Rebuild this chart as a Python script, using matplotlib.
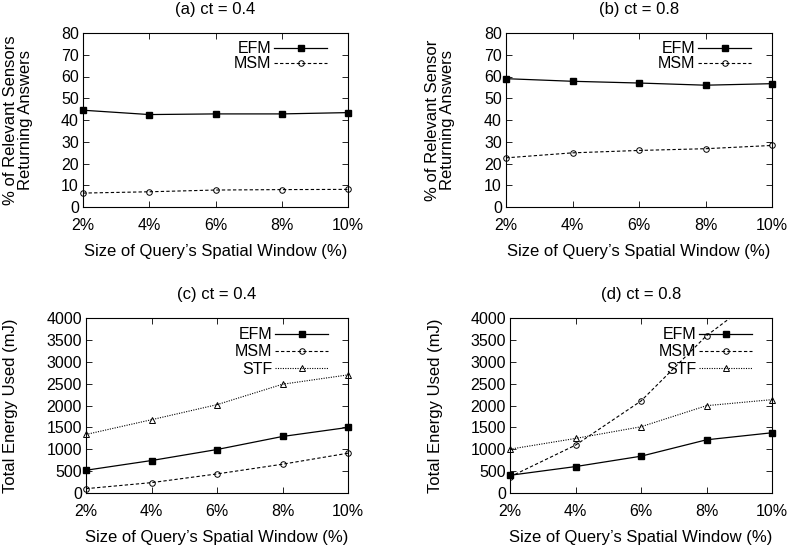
import matplotlib
matplotlib.use("Agg")
import matplotlib.pyplot as plt

plt.rcParams["font.family"] = ["Liberation Sans", "DejaVu Sans"]
plt.rcParams["font.size"] = 11.5

# x axis: size of the query's spatial window
windows = [2, 4, 6, 8, 10]
window_labels = ["2%", "4%", "6%", "8%", "10%"]

# (a) / (b) percentage of relevant sensors returning answers
efm_pct_04 = [44.5, 42.5, 42.8, 42.8, 43.4]
msm_pct_04 = [6.4, 7.0, 7.8, 8.0, 8.1]
efm_pct_08 = [59.0, 57.8, 57.0, 56.0, 56.7]
msm_pct_08 = [22.6, 24.9, 26.0, 26.8, 28.3]

# (c) / (d) total energy used (mJ)
efm_energy_04 = [520, 742, 994, 1292, 1499]
msm_energy_04 = [99, 237, 436, 658, 910]
stf_energy_04 = [1338, 1675, 2019, 2486, 2700]
efm_energy_08 = [405, 604, 841, 1216, 1377]
msm_energy_08 = [370, 1094, 2103, 3595, 4720]
stf_energy_08 = [1002, 1247, 1514, 1996, 2134]

fig = plt.figure(figsize=(7.9, 5.45), dpi=100)
W, H = 790.0, 545.0


def make_ax(left, right, top, bottom):
    return fig.add_axes([left / W, 1 - bottom / H, (right - left) / W, (bottom - top) / H])


styles = {
    "EFM": dict(color="black", lw=0.9, ls="-", marker="s", ms=3.8, mfc="black", mec="black"),
    "MSM": dict(color="black", lw=0.8, ls=(0, (3, 2)), marker="o", ms=4.0, mfc="none", mec="black", mew=0.7),
    "STF": dict(color="black", lw=0.8, ls=(0, (1, 1.2)), marker="^", ms=4.0, mfc="none", mec="black", mew=0.7),
}


def style_axes(ax, title, ylabel, ymax, ystep, ylab_x, lab_spacing, leg_x, leg_y):
    ax.set_xlim(2, 10)
    ax.set_ylim(0, ymax)
    ax.set_xticks(windows)
    ax.set_xticklabels(window_labels)
    ax.set_yticks(range(0, ymax + 1, ystep))
    ax.tick_params(direction="in", length=4, width=0.6, top=True, right=True)
    ax.tick_params(axis="y", pad=3)
    ax.tick_params(axis="x", pad=8)
    for s in ax.spines.values():
        s.set_linewidth(0.8)
    ax.set_title(title, fontsize=12, pad=14)
    ax.set_xlabel("Size of Query\u2019s Spatial Window (%)", fontsize=12, labelpad=8)
    ax.set_ylabel(ylabel, fontsize=12, linespacing=1.0)
    ax.yaxis.set_label_coords(ylab_x, 0.5)
    ax.legend(loc="upper right", bbox_to_anchor=(leg_x, leg_y), frameon=False,
              markerfirst=False, handlelength=3.3, labelspacing=lab_spacing,
              borderaxespad=0.0, handletextpad=0.2, borderpad=0.0)


ax = make_ax(83, 348, 33, 207)
ax.plot(windows, efm_pct_04, label="EFM", clip_on=False, **styles["EFM"])
ax.plot(windows, msm_pct_04, label="MSM", clip_on=False, **styles["MSM"])
style_axes(ax, "(a) ct = 0.4", "% of Relevant Sensors\nReturning Answers", 80, 10, -0.189, 0.0, 0.921, 0.953)

ax = make_ax(506, 772, 33, 207)
ax.plot(windows, efm_pct_08, label="EFM", clip_on=False, **styles["EFM"])
ax.plot(windows, msm_pct_08, label="MSM", clip_on=False, **styles["MSM"])
style_axes(ax, "(b) ct = 0.8", "% of Relevant Sensor\nReturning Answers", 80, 10, -0.192, 0.0, 0.921, 0.953)

ax = make_ax(86, 348, 318, 493)
ax.plot(windows, efm_energy_04, label="EFM", clip_on=False, **styles["EFM"])
ax.plot(windows, msm_energy_04, label="MSM", clip_on=False, **styles["MSM"])
ax.plot(windows, stf_energy_04, label="STF", clip_on=False, **styles["STF"])
style_axes(ax, "(c) ct = 0.4", "Total Energy Used (mJ)", 4000, 500, -0.26, 0.15, 0.924, 0.948)

ax = make_ax(510, 772, 318, 493)
ax.plot(windows, efm_energy_08, label="EFM", clip_on=False, **styles["EFM"])
ax.plot(windows, msm_energy_08, label="MSM", **styles["MSM"])
ax.plot(windows, stf_energy_08, label="STF", clip_on=False, **styles["STF"])
style_axes(ax, "(d) ct = 0.8", "Total Energy Used (mJ)", 4000, 500, -0.255, 0.15, 0.924, 0.948)

fig.savefig("out.png", dpi=100)
